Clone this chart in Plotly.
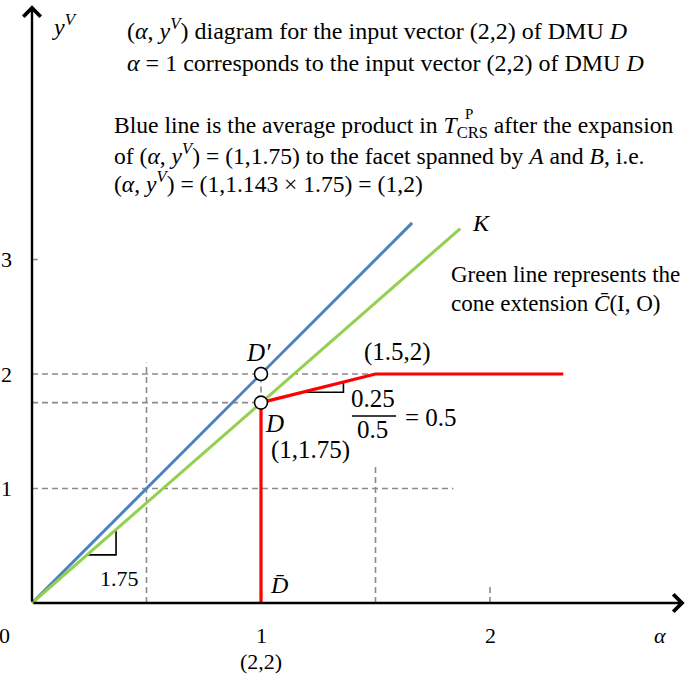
import plotly.graph_objects as go

# data (alpha, y^V)
blue_x = [0, 1.66]
blue_y = [0, 3.32]
green_x = [0, 1.87]
green_y = [0, 3.27]
red_x = [1, 1, 1.5, 2.32]
red_y = [0, 1.75, 2, 2]
pts_x = [1, 1]
pts_y = [2, 1.75]
x_ticks = [0, 1, 2]
y_ticks = [1, 2, 3]

SERIF = "Liberation Serif"
GRAY = "#8a8a8a"

fig = go.Figure()

def dashed(xs, ys):
    fig.add_trace(go.Scatter(x=xs, y=ys, mode="lines",
                             line=dict(color=GRAY, width=1.6, dash="6px,4px"),
                             showlegend=False, hoverinfo="skip"))

def solid(xs, ys, color, width):
    fig.add_trace(go.Scatter(x=xs, y=ys, mode="lines",
                             line=dict(color=color, width=width),
                             showlegend=False, hoverinfo="skip"))

# dashed guides
dashed([0, 1.5], [2, 2])
dashed([0, 1], [1.75, 1.75])
dashed([0, 1.84], [1, 1])
dashed([0.5, 0.5], [0, 2.1])
dashed([1, 1], [1.75, 2.1])
dashed([1.5, 1.5], [0, 1.2])
dashed([2, 2], [0, 0.14])

# slope triangles
solid([0.24, 0.367, 0.367], [0.42, 0.42, 0.642], "black", 1.6)
solid([1.183, 1.36, 1.36], [1.84, 1.84, 1.93], "black", 1.6)
# small tick at y=3
solid([0, 0.025], [3, 3], GRAY, 1.6)

solid(blue_x, blue_y, "#4f81bd", 3)
solid(green_x, green_y, "#92d050", 3)
solid(red_x, red_y, "#ff0000", 3.2)

fig.add_trace(go.Scatter(x=pts_x, y=pts_y, mode="markers",
                         marker=dict(size=13, color="white",
                                     line=dict(color="black", width=1.6)),
                         showlegend=False, hoverinfo="skip"))

# axes with arrows
for hx, hy in [(0, 5.22), (2.85, 0)]:
    fig.add_annotation(x=hx, y=hy, ax=0, ay=0, xref="x", yref="y",
                       axref="x", ayref="y", text="", showarrow=True,
                       arrowhead=4, arrowsize=1.4, arrowwidth=2.4,
                       arrowcolor="black")

def label(x, y, text, size=24, xanchor="center"):
    fig.add_annotation(x=x, y=y, xref="x", yref="y", text=text,
                       showarrow=False, xanchor=xanchor, yanchor="middle",
                       font=dict(family=SERIF, size=size, color="black"))

for t in x_ticks:
    label(t if t else -0.118, -0.288, str(t), 22)
label(1, -0.515, "(2,2)", 22)
label(2.742, -0.288, "<i>α</i>", 22)
for t in y_ticks:
    label(-0.11, t, str(t), 22)

label(0.144, 5.048, "<i>y</i><sup><i>V</i></sup>", 24)
label(0.406, 5.013, "(<i>α</i>, <i>y</i><sup><i>V</i></sup>) diagram for the input vector (2,2) of DMU <i>D</i>", 24, "left")
label(0.406, 4.716, "<i>α</i> = 1 corresponds to the input vector (2,2) of DMU <i>D</i>", 24, "left")
label(0.349, 4.157, "Blue line is the average product in <i>T</i><sub>CRS</sub> after the expansion", 23.6, "left")
label(1.91, 4.27, "P", 15)
label(0.349, 3.921, "of (<i>α</i>, <i>y</i><sup><i>V</i></sup>) = (1,1.75) to the facet spanned by <i>A</i> and <i>B</i>, i.e.", 23.6, "left")
label(0.349, 3.677, "(<i>α</i>, <i>y</i><sup><i>V</i></sup>) = (1,1.143 × 1.75) = (1,2)", 23.6, "left")

label(1.965, 3.32, "<i>K</i>", 24)
label(1.821, 2.865, "Green line represents the", 23, "left")
label(1.821, 2.62, "cone extension <i>C̄</i>(I, O)", 23, "left")

label(0.987, 2.19, "<i>D′</i>", 25)
label(1.594, 2.19, "(1.5,2)", 25)
label(1.057, 1.572, "<i>D</i>", 25)
label(1.214, 1.336, "(1,1.75)", 25)
label(1.489, 1.79, "0.25", 25)
label(1.489, 1.511, "0.5", 25)
solid([1.397, 1.59], [1.633, 1.633], "black", 1.4)
label(1.62, 1.624, "= 0.5", 25, "left")
label(0.384, 0.218, "1.75", 22)
label(1.078, 0.16, "<i>D̄</i>", 24)

fig.update_layout(
    width=685, height=676,
    margin=dict(l=0, r=0, t=0, b=0),
    plot_bgcolor="white", paper_bgcolor="white",
    xaxis=dict(range=[-32 / 229, 653 / 229], visible=False, fixedrange=True),
    yaxis=dict(range=[-73 / 114.5, 603 / 114.5], visible=False, fixedrange=True),
)

fig.write_html("out.html", config={"displayModeBar": False},
               post_script="document.body.style.margin='0';")
